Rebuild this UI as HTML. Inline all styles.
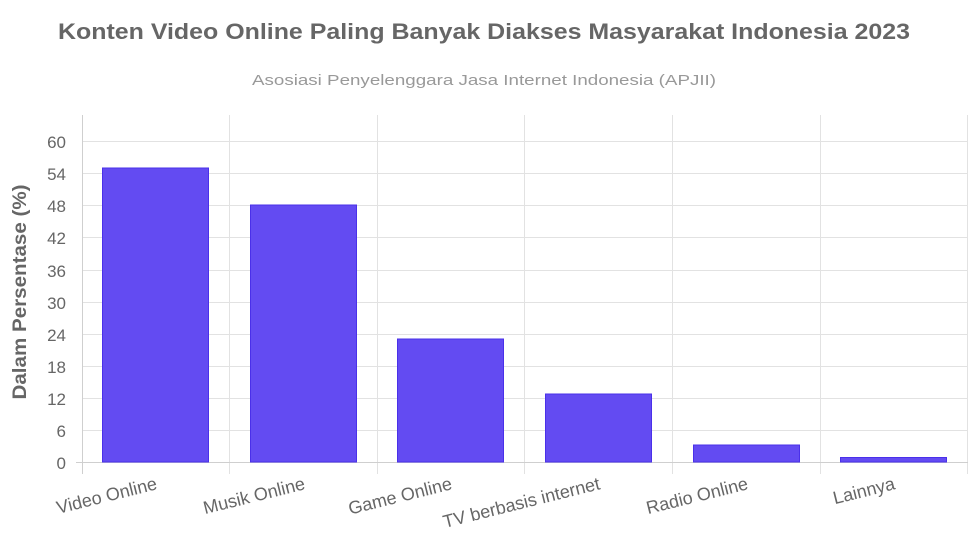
<!DOCTYPE html>
<html><head><meta charset="utf-8"><style>
body{margin:0;background:#fff;}
svg text{font-family:"Liberation Sans",sans-serif;}
</style></head><body>
<svg width="968" height="543" viewBox="0 0 968 543">
<text x="484" y="39" text-anchor="middle" font-size="22" font-weight="bold" fill="#666" textLength="852" lengthAdjust="spacingAndGlyphs">Konten Video Online Paling Banyak Diakses Masyarakat Indonesia 2023</text>
<text x="484" y="85" text-anchor="middle" font-size="15" fill="#999" textLength="464" lengthAdjust="spacingAndGlyphs">Asosiasi Penyelenggara Jasa Internet Indonesia (APJII)</text>
<g stroke="#e2e2e2" stroke-width="1">
<line x1="82" y1="141.5" x2="968" y2="141.5"/><line x1="82" y1="173.5" x2="968" y2="173.5"/>
<line x1="82" y1="205.5" x2="968" y2="205.5"/><line x1="82" y1="237.5" x2="968" y2="237.5"/>
<line x1="82" y1="270.5" x2="968" y2="270.5"/><line x1="82" y1="302.5" x2="968" y2="302.5"/>
<line x1="82" y1="334.5" x2="968" y2="334.5"/><line x1="82" y1="366.5" x2="968" y2="366.5"/>
<line x1="82" y1="398.5" x2="968" y2="398.5"/><line x1="82" y1="430.5" x2="968" y2="430.5"/>
<line x1="229.5" y1="115" x2="229.5" y2="474"/><line x1="377.5" y1="115" x2="377.5" y2="474"/>
<line x1="524.5" y1="115" x2="524.5" y2="474"/><line x1="672.5" y1="115" x2="672.5" y2="474"/>
<line x1="820.5" y1="115" x2="820.5" y2="474"/><line x1="967.5" y1="115" x2="967.5" y2="474"/>
</g>
<g stroke="#cfcfcf"><line x1="82" y1="462.5" x2="968" y2="462.5"/><line x1="82.5" y1="115" x2="82.5" y2="474"/><line x1="76" y1="462.5" x2="82" y2="462.5"/></g>
<g font-size="17" fill="#666" text-anchor="end">
<text x="66" y="148">60</text><text x="66" y="180">54</text><text x="66" y="212">48</text><text x="66" y="244">42</text>
<text x="66" y="277">36</text><text x="66" y="309">30</text><text x="66" y="341">24</text><text x="66" y="373">18</text>
<text x="66" y="405">12</text><text x="66" y="437">6</text><text x="66" y="469">0</text>
</g>
<text transform="translate(26,292) rotate(-90)" text-anchor="middle" font-size="19" font-weight="bold" fill="#666" textLength="215" lengthAdjust="spacingAndGlyphs">Dalam Persentase (%)</text>
<g fill="#634bf2" stroke="#4a30ea" stroke-width="1">
<rect x="102.5" y="168" width="106" height="294"/>
<rect x="250.5" y="205" width="106" height="257"/>
<rect x="397.5" y="339" width="106" height="123"/>
<rect x="545.5" y="394" width="106" height="68"/>
<rect x="693.5" y="445" width="106" height="17"/>
<rect x="840.5" y="457.5" width="106" height="4.5"/>
</g>
<g font-size="18" fill="#666" text-anchor="end">
<text transform="translate(158,489) rotate(-14)">Video Online</text>
<text transform="translate(306,489) rotate(-14)">Musik Online</text>
<text transform="translate(453,489) rotate(-14)">Game Online</text>
<text transform="translate(601,489) rotate(-14)">TV berbasis internet</text>
<text transform="translate(749,489) rotate(-14)">Radio Online</text>
<text transform="translate(896,489) rotate(-14)">Lainnya</text>
</g>
</svg>
</body></html>
